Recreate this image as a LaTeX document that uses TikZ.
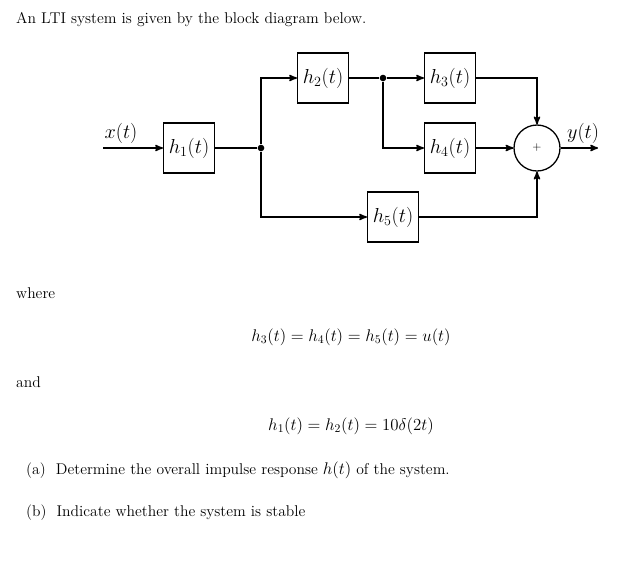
\documentclass[tikz,border=0pt]{standalone}
\usepackage{amsmath}
\usetikzlibrary{arrows,positioning}
\tikzset{
  x=0.03cm, y=-0.03cm,
  block/.style={draw, line width=1pt, minimum width=1.53cm, minimum height=1.5cm, inner sep=0pt, font=\fontsize{17}{20}\selectfont},
  sum/.style={draw, line width=1.1pt, circle, minimum size=1.38cm, inner sep=0pt},
  sig/.style={->, >=stealth', line width=1.3pt},
  line/.style={line width=1.3pt},
  dot/.style={circle, fill, inner sep=2pt},
  txt/.style={anchor=west, inner sep=0pt, font=\fontsize{13.3}{16}\selectfont}
  }
\begin{document}
\begin{tikzpicture}
  \useasboundingbox (0,0) rectangle (634,574);
  \node [txt] (intro) at (16,20) {An LTI system is given by the block diagram below.};

  % blocks
  \node [block] (h1) at (189,148) {$h_1(t)$};
  \node [block] (h2) at (323,78) {$h_2(t)$};
  \node [block] (h3) at (450,78) {$h_3(t)$};
  \node [block] (h4) at (450,148) {$h_4(t)$};
  \node [block] (h5) at (393,217) {$h_5(t)$};
  \node [sum] (s) at (537,148) {$+$};
  \node [dot] (j1) at (261,148) {};
  \node [dot] (j2) at (383,78) {};
  \coordinate (in) at (103,148);
  \coordinate (out) at (598,148);

  % connections
  \draw [sig] (in) -- node[above, font=\fontsize{17}{20}\selectfont, pos=0.3] {$x(t)$} (h1);
  \draw [line] (h1) -- (j1);
  \draw [sig] (j1) |- (h2);
  \draw [sig] (j1) |- (h5);
  \draw [line] (h2) -- (j2);
  \draw [sig] (j2) -- (h3);
  \draw [sig] (j2) |- (h4);
  \draw [sig] (h3) -| (s);
  \draw [sig] (h4) -- (s);
  \draw [sig] (h5) -| (s);
  \draw [sig] (s) -- node[above, font=\fontsize{17}{20}\selectfont, pos=0.6] {$y(t)$} (out);

  % text below
  \node [txt] (where) at (16,293) {where};
  \node [txt, anchor=center, font=\fontsize{14.5}{17}\selectfont] (eq1) at (351,337) {$h_3(t) = h_4(t) = h_5(t) = u(t)$};
  \node [txt] (and) at (16,382) {and};
  \node [txt, anchor=center, font=\fontsize{14.5}{17}\selectfont] (eq2) at (351,426) {$h_1(t) = h_2(t) = 10\delta(2t)$};
  \node [txt] (qa) at (26,470) {(a)\ \ Determine the overall impulse response $h(t)$ of the system.};
  \node [txt] (qb) at (26,513) {(b)\ \ Indicate whether the system is stable};
\end{tikzpicture}
\end{document}
